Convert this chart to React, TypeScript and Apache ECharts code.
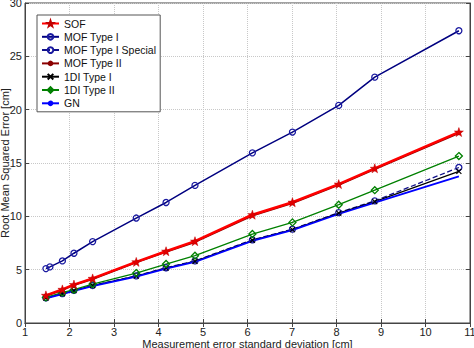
import React, { useEffect, useRef } from "react";
import * as echarts from "echarts";

const xCommon = [1.47, 1.84, 2.1, 2.52, 3.5, 4.17, 4.82, 6.11, 7.01, 8.05, 8.86, 10.75];
const xMofI = [1.47, 1.56, 1.84, 2.1, 2.52, 3.5, 4.17, 4.82, 6.11, 7.01, 8.05, 8.86, 10.75];

const sof = [2.59, 3.15, 3.6, 4.18, 5.73, 6.73, 7.67, 10.15, 11.32, 13.02, 14.5, 17.9];
const mofI = [5.1, 5.26, 5.82, 6.54, 7.63, 9.84, 11.3, 12.9, 15.95, 17.9, 20.4, 23.05, 27.4];
const mofISpecial = [2.35, 2.76, 3.06, 3.52, 4.42, 5.18, 5.82, 7.8, 8.8, 10.35, 11.45, 14.58];
const mofII = [2.55, 3.1, 3.55, 4.12, 5.68, 6.68, 7.6, 10.08, 11.25, 12.95, 14.42, 17.8];
const oneDiI = [2.33, 2.74, 3.04, 3.5, 4.4, 5.15, 5.78, 7.76, 8.76, 10.3, 11.38, 14.21];
const oneDiII = [2.4, 2.85, 3.12, 3.65, 4.68, 5.53, 6.31, 8.34, 9.43, 11.09, 12.45, 15.65];
const gn = [2.3, 2.7, 3.0, 3.46, 4.35, 5.1, 5.72, 7.7, 8.7, 10.22, 11.28, 13.74];

const seriesNames = ["SOF", "MOF Type I", "MOF Type I Special", "MOF Type II", "1DI Type I", "1DI Type II", "GN"];

const STAR = "path://M10,0L12.35,6.76L19.51,6.91L13.8,11.24L15.88,18.09L10,14L4.12,18.09L6.2,11.24L0.49,6.91L7.65,6.76Z";
const XMARK = "path://M0,0L10,10M10,0L0,10";

const zip = (xs: number[], ys: number[]) => xs.map((x, i) => [x, ys[i]]);

const FONT = "Liberation Sans, Arial, sans-serif";

export default function App() {
  const ref = useRef<HTMLDivElement>(null);
  useEffect(() => {
    if (!ref.current) return;
    const chart = echarts.init(ref.current, undefined, { renderer: "svg" });
    const axisCommon = {
      axisLine: { show: true, lineStyle: { color: "#444", width: 1 } },
      axisTick: { show: true, inside: true, length: 4, lineStyle: { color: "#444" } },
      axisLabel: { color: "#222", fontSize: 11, fontFamily: FONT },
      nameTextStyle: { color: "#222", fontSize: 11, fontFamily: FONT },
      nameMoveOverlap: false,
    };
    chart.setOption({
      animation: false,
      backgroundColor: "#fff",
      grid: {
        left: 25,
        right: 4,
        top: 3,
        bottom: 25,
        containLabel: false,
        outerBoundsMode: "none",
        show: true,
        borderColor: "#444",
        borderWidth: 1,
        backgroundColor: "transparent",
      },
      legend: {
        orient: "vertical",
        left: 37,
        top: 15,
        itemWidth: 17,
        itemHeight: 7,
        itemGap: 2.3,
        padding: [3, 4, 3, 4],
        backgroundColor: "#fff",
        borderColor: "#555",
        borderWidth: 1,
        textStyle: { color: "#111", fontSize: 10.5, fontFamily: FONT, lineHeight: 11 },
        data: seriesNames,
      },
      xAxis: [
        {
          type: "value",
          min: 1,
          max: 11,
          interval: 1,
          name: "Measurement error standard deviation [cm]",
          nameLocation: "middle",
          nameGap: 15,
          ...axisCommon,
          axisLabel: { ...axisCommon.axisLabel, margin: 3 },
          splitLine: { show: true, lineStyle: { color: "#c8c8c8", type: "dotted", width: 1 } },
        },
        {
          type: "value",
          min: 1,
          max: 11,
          interval: 1,
          position: "top",
          ...axisCommon,
          axisLabel: { show: false },
          splitLine: { show: false },
        },
      ],
      yAxis: [
        {
          type: "value",
          min: 0,
          max: 30,
          interval: 5,
          name: "Root Mean Squared Error [cm]",
          nameLocation: "middle",
          nameGap: 15,
          ...axisCommon,
          axisLabel: { ...axisCommon.axisLabel, margin: 3 },
          splitLine: { show: true, lineStyle: { color: "#c8c8c8", type: "dotted", width: 1 } },
        },
        {
          type: "value",
          min: 0,
          max: 30,
          interval: 5,
          position: "right",
          ...axisCommon,
          axisLabel: { show: false },
          splitLine: { show: false },
        },
      ],
      series: [
        {
          name: "SOF",
          type: "line",
          data: zip(xCommon, sof),
          z: 5,
          color: "#ff0000",
          lineStyle: { color: "#ff0000", width: 2.5 },
          symbol: STAR,
          symbolSize: 9,
          itemStyle: { color: "#e00000", borderColor: "#c00000", borderWidth: 0.5 },
        },
        {
          name: "MOF Type I",
          type: "line",
          data: zip(xMofI, mofI),
          color: "#000080",
          lineStyle: { color: "#000080", width: 1.5 },
          symbol: "circle",
          symbolSize: 6,
          itemStyle: { color: "rgba(0,0,0,0)", borderColor: "#1a1aa0", borderWidth: 1.3 },
        },
        {
          name: "MOF Type I Special",
          type: "line",
          data: zip(xCommon, mofISpecial),
          color: "#000080",
          lineStyle: { color: "#10108a", width: 1.3, type: "dashed" },
          symbol: "circle",
          symbolSize: 6,
          itemStyle: { color: "rgba(0,0,0,0)", borderColor: "#1a1aa0", borderWidth: 1.3 },
        },
        {
          name: "MOF Type II",
          type: "line",
          data: zip(xCommon, mofII),
          z: 4,
          color: "#8b0000",
          lineStyle: { color: "#8b0000", width: 2 },
          symbol: "circle",
          symbolSize: 4,
          itemStyle: { color: "#8b0000" },
        },
        {
          name: "1DI Type I",
          type: "line",
          data: zip(xCommon, oneDiI),
          color: "#000000",
          lineStyle: { color: "#000000", width: 1.2 },
          symbol: XMARK,
          symbolSize: 5,
          itemStyle: { color: "rgba(0,0,0,0)", borderColor: "#000", borderWidth: 1.2 },
        },
        {
          name: "1DI Type II",
          type: "line",
          data: zip(xCommon, oneDiII),
          color: "#008000",
          lineStyle: { color: "#008000", width: 1.3 },
          symbol: "diamond",
          symbolSize: 7,
          itemStyle: { color: "rgba(0,0,0,0)", borderColor: "#008000", borderWidth: 1.3 },
        },
        {
          name: "GN",
          type: "line",
          data: zip(xCommon, gn),
          color: "#0000ff",
          lineStyle: { color: "#0000ff", width: 1.8 },
          symbol: "none",
        },
      ],
    });
    return () => chart.dispose();
  }, []);
  return (
    <div
      ref={ref}
      style={{ position: "fixed", left: 0, top: 0, width: 474, height: 348, background: "#fff" }}
    />
  );
}
